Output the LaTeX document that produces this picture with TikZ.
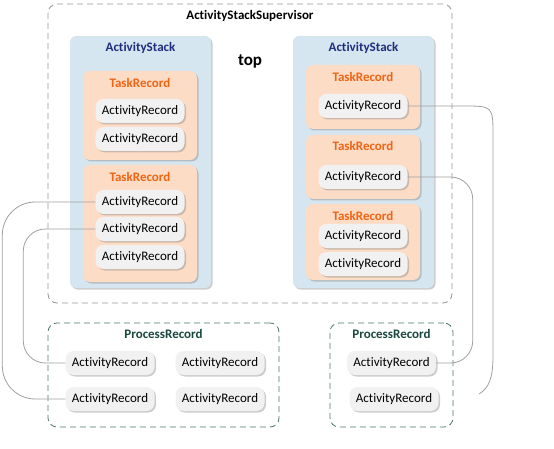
\documentclass[tikz,border=0pt]{standalone}
\usepackage{fontspec}
\setmainfont[Ligatures=NoCommon]{Carlito}
\usetikzlibrary{shadows}
\definecolor{stackfill}{RGB}{214,230,240}
\definecolor{stacktext}{RGB}{30,45,125}
\definecolor{taskfill}{RGB}{253,220,198}
\definecolor{tasktext}{RGB}{240,100,20}
\definecolor{recfill}{RGB}{241,241,241}
\definecolor{procline}{RGB}{80,120,110}
\definecolor{proctext}{RGB}{25,70,60}
\definecolor{linkcol}{RGB}{160,160,160}
\definecolor{supline}{RGB}{150,150,150}
\begin{document}
\begin{tikzpicture}
[x=1pt,y=-1pt,font=\fontsize{13}{15}\selectfont]
\tikzstyle{box shadow}=[drop shadow={opacity=.4,shadow xshift=1.5pt,shadow yshift=-1.5pt}]
\tikzstyle{sup box}=[draw=supline,line width=.8pt,dash pattern=on 6pt off 4pt,rounded corners=9pt,inner sep=0]
\tikzstyle{stack box}=[fill=stackfill,rounded corners=6pt,inner sep=0,box shadow]
\tikzstyle{task box}=[fill=taskfill,rounded corners=7pt,inner sep=0,box shadow,minimum width=114pt]
\tikzstyle{rec}=[fill=recfill,rounded corners=8pt,inner sep=0,box shadow,minimum width=89pt,minimum height=24pt]
\tikzstyle{proc box}=[draw=procline,thick,dash pattern=on 6pt off 4pt,rounded corners=9pt,inner sep=0]
\tikzstyle{stack title}=[font=\fontsize{13}{15}\selectfont\bfseries,text=stacktext]
\tikzstyle{task title}=[font=\fontsize{13}{15}\selectfont\bfseries,text=tasktext]
\tikzstyle{proc title}=[font=\fontsize{13}{15}\selectfont\bfseries,text=proctext]
\tikzstyle{link}=[draw=linkcol,thick]

\useasboundingbox (0,0) rectangle (554,449);

% ActivityStackSupervisor
\node(sup)[sup box,minimum width=404pt,minimum height=299pt] at (250,153.5){};
\node(suptitle)[font=\fontsize{13}{15}\selectfont\bfseries] at (250,16){ActivityStackSupervisor};
\node(top)[font=\fontsize{17}{19}\selectfont\bfseries] at (250,61){top};

% left stack
\node(ls)[stack box,minimum width=141pt,minimum height=252pt] at (140.5,162){};
\node(lstitle)[stack title] at (140.5,48){ActivityStack};
\node(lt1)[task box,minimum height=89pt] at (140,115.5){};
\node(lt1title)[task title] at (140,83){TaskRecord};
\node(lt1a)[rec] at (140,111){ActivityRecord};
\node(lt1b)[rec] at (140,139){ActivityRecord};
\node(lt2)[task box,minimum height=117pt] at (140,223.5){};
\node(lt2title)[task title] at (140,177){TaskRecord};
\node(lt2a)[rec] at (140,202){ActivityRecord};
\node(lt2b)[rec] at (140,229){ActivityRecord};
\node(lt2c)[rec] at (140,257){ActivityRecord};

% right stack
\node(rs)[stack box,minimum width=141pt,minimum height=252pt] at (363.5,162){};
\node(rstitle)[stack title] at (363.5,48){ActivityStack};
\node(rt1)[task box,minimum height=64pt] at (363,97){};
\node(rt1title)[task title] at (363,77){TaskRecord};
\node(rt1a)[rec] at (363,106){ActivityRecord};
\node(rt2)[task box,minimum height=64pt] at (363,167){};
\node(rt2title)[task title] at (363,146){TaskRecord};
\node(rt2a)[rec] at (363,177){ActivityRecord};
\node(rt3)[task box,minimum height=76pt] at (363,242){};
\node(rt3title)[task title] at (363,216){TaskRecord};
\node(rt3a)[rec] at (363,236){ActivityRecord};
\node(rt3b)[rec] at (363,264){ActivityRecord};

% ProcessRecords
\node(lp)[proc box,minimum width=231pt,minimum height=104pt] at (163.5,375){};
\node(lptitle)[proc title] at (163.5,334){ProcessRecord};
\node(lp1)[rec] at (110,363){ActivityRecord};
\node(lp2)[rec] at (110,399){ActivityRecord};
\node(lp3)[rec] at (220,363){ActivityRecord};
\node(lp4)[rec] at (220,399){ActivityRecord};
\node(rp)[proc box,minimum width=123pt,minimum height=104pt] at (391.5,375){};
\node(rptitle)[proc title] at (391.5,334){ProcessRecord};
\node(rp1)[rec] at (391.5,363){ActivityRecord};
\node(rp2)[rec] at (394,399){ActivityRecord};

% links
\coordinate(tail) at (479,394);
\draw[link,rounded corners=33pt](lt2a.west) -- ++(-93,0) |- (lp2.west);
\draw[link,rounded corners=22pt](lt2b.west) -- ++(-72,0) |- (lp1.west);
\draw[link,rounded corners=22pt](rt2a.east) -- ++(65,0) |- (rp1.east);
\draw[link](rt1a.east) -- (463,106) .. controls (493,106) .. (493,136)
   -- (493,356) .. controls (493,378) and (489,388) .. (tail);
\end{tikzpicture}
\end{document}
